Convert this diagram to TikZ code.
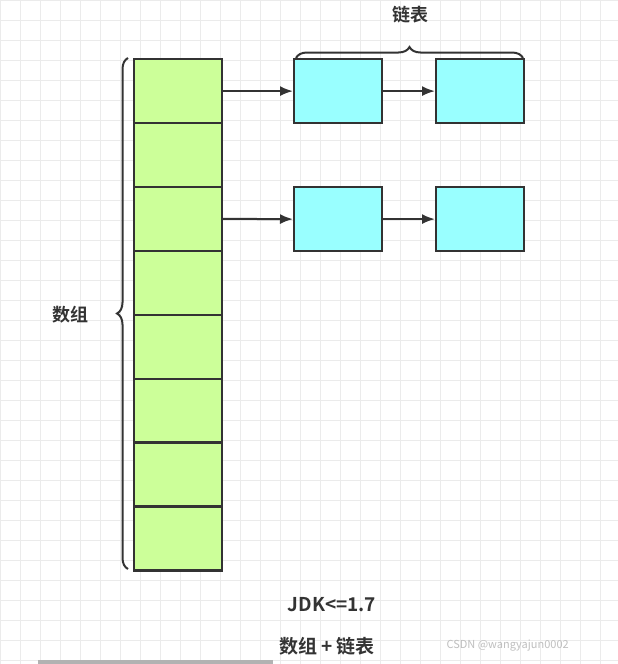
\documentclass[tikz,border=0pt]{standalone}
\usepackage{fontspec}
\newfontfamily\cjk{Noto Sans CJK SC}[BoldFont={Noto Sans CJK SC Bold}]
\usetikzlibrary{decorations.pathreplacing,arrows.meta}
\definecolor{cellgreen}{HTML}{CCFF99}
\definecolor{cellcyan}{HTML}{99FFFF}
\definecolor{ink}{HTML}{333333}
\tikzset{
  arr/.style={draw=ink,fill=cellgreen,line width=2.2pt},
  lst/.style={draw=ink,fill=cellcyan,line width=2.2pt,minimum width=88pt,minimum height=64pt,inner sep=0pt},
  link/.style={draw=ink,line width=2pt,-{Latex[length=13pt,width=10pt]}},
  brc/.style={draw=ink,line width=2pt,decorate,decoration={brace,amplitude=11pt,aspect=0.5}},
  lbl/.style={font=\cjk\bfseries\fontsize{18pt}{20pt}\selectfont,text=ink}
}
\begin{document}
\begin{tikzpicture}[x=1pt,y=-1pt]
\useasboundingbox (0,0) rectangle (618,664);
\fill[white] (0,0) rectangle (618,664);
\draw[black!8,line width=0.6pt] (0,0) grid[step=20pt] (618,664);
\foreach \i in {0,...,7}{
  \node[arr,minimum width=88pt,minimum height=64pt,inner sep=0pt,anchor=north west] (c\i) at (133,{58+\i*63.9}) {};
}
\node[lst,anchor=north west] (a1) at (293,58) {};
\node[lst,anchor=north west] (a2) at (435,58) {};
\node[lst,anchor=north west] (b1) at (293,186) {};
\node[lst,anchor=north west] (b2) at (435,186) {};
\draw[link] (c0.east) -- (a1.west);
\draw[link] (a1.east) -- (a2.west);
\draw[link] (c2.east) -- (b1.west);
\draw[link] (b1.east) -- (b2.west);
\coordinate (bt) at (128,569); \coordinate (bb) at (128,58);
\draw[brc] (bt) -- (bb);
\coordinate (tl) at (296,58); \coordinate (tr) at (523,58);
\draw[brc] (tl) -- (tr);
\node[lbl] (l1) at (70,315) {数组};
\node[lbl] (l2) at (410,15) {链表};
\node[lbl,font=\cjk\bfseries\fontsize{19pt}{21pt}\selectfont] (l3) at (332,605) {JDK<=1.7};
\node[lbl,font=\cjk\bfseries\fontsize{19pt}{21pt}\selectfont] (l4) at (327,646) {数组 + 链表};
\node[text=black!25,font=\cjk\fontsize{11pt}{12pt}\selectfont,anchor=west] (wm) at (443,646) {CSDN @wangyajun0002};
\fill[black!30] (38,660) rectangle (273,664);
\end{tikzpicture}
\end{document}
